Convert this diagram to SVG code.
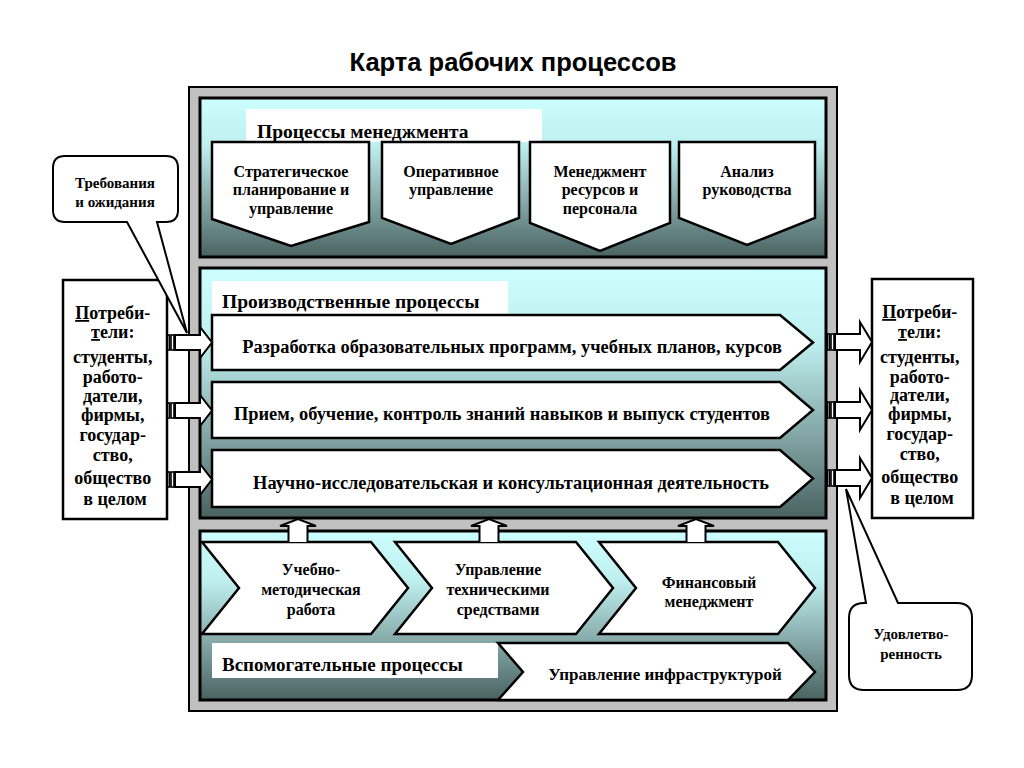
<svg xmlns="http://www.w3.org/2000/svg" width="1024" height="768" viewBox="0 0 1024 768">
<defs>
<linearGradient id="pg" x1="0" y1="0" x2="0" y2="1">
<stop offset="0" stop-color="#ccffff"/>
<stop offset="0.3" stop-color="#bfeeee"/>
<stop offset="0.65" stop-color="#86a9a9"/>
<stop offset="1" stop-color="#4a6262"/>
</linearGradient>
<style>
.panel{fill:url(#pg);stroke:#000;stroke-width:3}
.shape{fill:#fff;stroke:#000;stroke-width:2.5;stroke-linejoin:miter}
.lbl{fill:#fff}
.t{font-family:"Liberation Serif","Times New Roman",serif;font-weight:bold;fill:#000}
.c{text-anchor:middle}
.arr{fill:#fff;stroke:#000;stroke-width:2}
.str{fill:#fff;stroke:#000;stroke-width:1.6}
</style>
</defs>
<rect width="1024" height="768" fill="#fff"/>
<text x="513" y="71" text-anchor="middle" font-family="'Liberation Sans',Arial,sans-serif" font-weight="bold" font-size="25.5">Карта рабочих процессов</text>

<g id="frame">
<rect x="189" y="87" width="648" height="624" fill="#c0c0c0" stroke="#000" stroke-width="2"/>
</g>

<g id="management">
<rect class="panel" x="200" y="98" width="626" height="159"/>
<rect class="lbl" x="246" y="109" width="296" height="33"/>
<text class="t" x="257" y="138" font-size="19.5">Процессы менеджмента</text>
<g id="m1">
<path class="shape" d="M212,142 H369 V222 L291,246 L212,219 Z"/>
<text class="t c" font-size="16"><tspan x="291" y="177">Стратегическое</tspan><tspan x="291" y="195">планирование и</tspan><tspan x="291" y="214">управление</tspan></text>
</g>
<g id="m2">
<path class="shape" d="M382,142 H519 V218 L451,244 L382,218 Z"/>
<text class="t c" font-size="16"><tspan x="451" y="177">Оперативное</tspan><tspan x="451" y="195">управление</tspan></text>
</g>
<g id="m3">
<path class="shape" d="M530,142 H670 V223 L600,251 L530,223 Z"/>
<text class="t c" font-size="16"><tspan x="600" y="177">Менеджмент</tspan><tspan x="600" y="195">ресурсов и</tspan><tspan x="600" y="214">персонала</tspan></text>
</g>
<g id="m4">
<path class="shape" d="M679,142 H815 V218 L747,245 L679,218 Z"/>
<text class="t c" font-size="16"><tspan x="747" y="177">Анализ</tspan><tspan x="747" y="195">руководства</tspan></text>
</g>
</g>

<g id="production">
<rect class="panel" x="200" y="268" width="626" height="250"/>
<rect class="lbl" x="212" y="281" width="296" height="34"/>
<text class="t" x="222" y="308" font-size="19.5">Производственные процессы</text>
<g id="p1">
<path class="shape" d="M212,315 H780 L813,342.5 L780,370 H212 Z"/>
<text class="t c" x="512" y="353" font-size="18.4">Разработка образовательных программ, учебных планов, курсов</text>
</g>
<g id="p2">
<path class="shape" d="M212,382 H780 L813,410 L780,438 H212 Z"/>
<text class="t c" x="502" y="420" font-size="18.4">Прием, обучение, контроль знаний навыков и выпуск студентов</text>
</g>
<g id="p3">
<path class="shape" d="M212,450 H780 L813,478.5 L780,507 H212 Z"/>
<text class="t c" x="511" y="489" font-size="18.4">Научно-исследовательская и консультационная деятельность</text>
</g>
</g>

<g id="support">
<rect class="panel" x="200" y="531" width="626" height="169"/>
<g id="s1">
<path class="shape" d="M202,542 H371 L408,588 L371,634 H202 L239,588 Z"/>
<text class="t c" font-size="16"><tspan x="311" y="575">Учебно-</tspan><tspan x="311" y="595">методическая</tspan><tspan x="311" y="615">работа</tspan></text>
</g>
<g id="s2">
<path class="shape" d="M395,542 H576 L613,588 L576,634 H395 L432,588 Z"/>
<text class="t c" font-size="16"><tspan x="498" y="575">Управление</tspan><tspan x="498" y="595">техническими</tspan><tspan x="498" y="615">средствами</tspan></text>
</g>
<g id="s3">
<path class="shape" d="M599,542 H778 L815,588 L778,634 H599 L636,588 Z"/>
<text class="t c" font-size="16"><tspan x="709" y="588">Финансовый</tspan><tspan x="709" y="607">менеджмент</tspan></text>
</g>
<rect class="lbl" x="212" y="643" width="286" height="35"/>
<text class="t" x="222" y="671" font-size="19">Вспомогательные процессы</text>
<g id="s4">
<path class="shape" d="M498,643 H788 L815,672 L788,700 H498 L523,672 Z"/>
<text class="t c" x="665" y="680" font-size="17">Управление инфраструктурой</text>
</g>
</g>

<g id="customers-in">
<rect x="63" y="280" width="104" height="239" fill="#fff" stroke="#000" stroke-width="2.5"/>
<text class="t c" font-size="18">
<tspan x="115" y="319"><tspan text-decoration="underline">П</tspan>отреби-</tspan>
<tspan x="115" y="338"><tspan text-decoration="underline">т</tspan>ели:</tspan>
<tspan x="115" y="363">студенты,</tspan>
<tspan x="115" y="383">работо-</tspan>
<tspan x="115" y="402">датели,</tspan>
<tspan x="115" y="421">фирмы,</tspan>
<tspan x="115" y="441">государ-</tspan>
<tspan x="115" y="461">ство,</tspan>
<tspan x="115" y="484">общество</tspan>
<tspan x="115" y="505">в целом</tspan>
</text>
</g>

<g id="customers-out">
<rect x="872" y="279" width="101" height="239" fill="#fff" stroke="#000" stroke-width="2.5"/>
<text class="t c" font-size="18">
<tspan x="922" y="318"><tspan text-decoration="underline">П</tspan>отреби-</tspan>
<tspan x="922" y="338"><tspan text-decoration="underline">т</tspan>ели:</tspan>
<tspan x="922" y="363">студенты,</tspan>
<tspan x="922" y="383">работо-</tspan>
<tspan x="922" y="401">датели,</tspan>
<tspan x="922" y="420">фирмы,</tspan>
<tspan x="922" y="440">государ-</tspan>
<tspan x="922" y="460">ство,</tspan>
<tspan x="922" y="483">общество</tspan>
<tspan x="922" y="504">в целом</tspan>
</text>
</g>

<g id="connectors">
<g>
<rect class="str" x="167.5" y="335" width="2" height="15"/><rect class="str" x="171" y="335" width="3" height="15"/>
<path class="arr" d="M175,335 H200 V327 L212,342.5 L200,358 V350 H175 Z"/>
<rect class="str" x="167.5" y="403" width="2" height="15"/><rect class="str" x="171" y="403" width="3" height="15"/>
<path class="arr" d="M175,403 H200 V395 L212,410.5 L200,426 V418 H175 Z"/>
<rect class="str" x="167.5" y="472" width="2" height="15"/><rect class="str" x="171" y="472" width="3" height="15"/>
<path class="arr" d="M175,472 H200 V464 L212,479.5 L200,495 V487 H175 Z"/>
</g>
<g>
<rect class="str" x="827.5" y="334" width="2" height="16"/><rect class="str" x="831" y="334" width="3" height="16"/>
<path class="arr" d="M835,334 H860 V322 L872,342 L860,362 V350 H835 Z"/>
<rect class="str" x="827.5" y="402" width="2" height="16"/><rect class="str" x="831" y="402" width="3" height="16"/>
<path class="arr" d="M835,402 H860 V390 L872,410 L860,430 V418 H835 Z"/>
<rect class="str" x="827.5" y="470" width="2" height="16"/><rect class="str" x="831" y="470" width="3" height="16"/>
<path class="arr" d="M835,470 H860 V458 L872,478 L860,498 V486 H835 Z"/>
</g>
<path class="arr" d="M288.5,542 V526 H280 L298,519 L316,526 H307.5 V542"/>
<path class="arr" d="M479.5,542 V526 H471 L489,519 L507,526 H498.5 V542"/>
<path class="arr" d="M686.5,542 V526 H678 L696,519 L714,526 H705.5 V542"/>
</g>

<g id="callout-req">
<path d="M65,156 H166 Q178,156 178,168 V210 Q178,222 166,222 H157 L187,333 L127,222 H65 Q53,222 53,210 V168 Q53,156 65,156 Z" fill="#fff" stroke="#000" stroke-width="2"/>
<text class="t c" font-size="15"><tspan x="115" y="188">Требования</tspan><tspan x="115" y="207">и ожидания</tspan></text>
</g>

<g id="callout-sat">
<path d="M864,603 H866 L846,489 L898,603 H957 Q972,603 972,618 V675 Q972,690 957,690 H864 Q849,690 849,675 V618 Q849,603 864,603 Z" fill="#fff" stroke="#000" stroke-width="2"/>
<text class="t c" font-size="15"><tspan x="911" y="639">Удовлетво-</tspan><tspan x="911" y="659">ренность</tspan></text>
</g>
</svg>
